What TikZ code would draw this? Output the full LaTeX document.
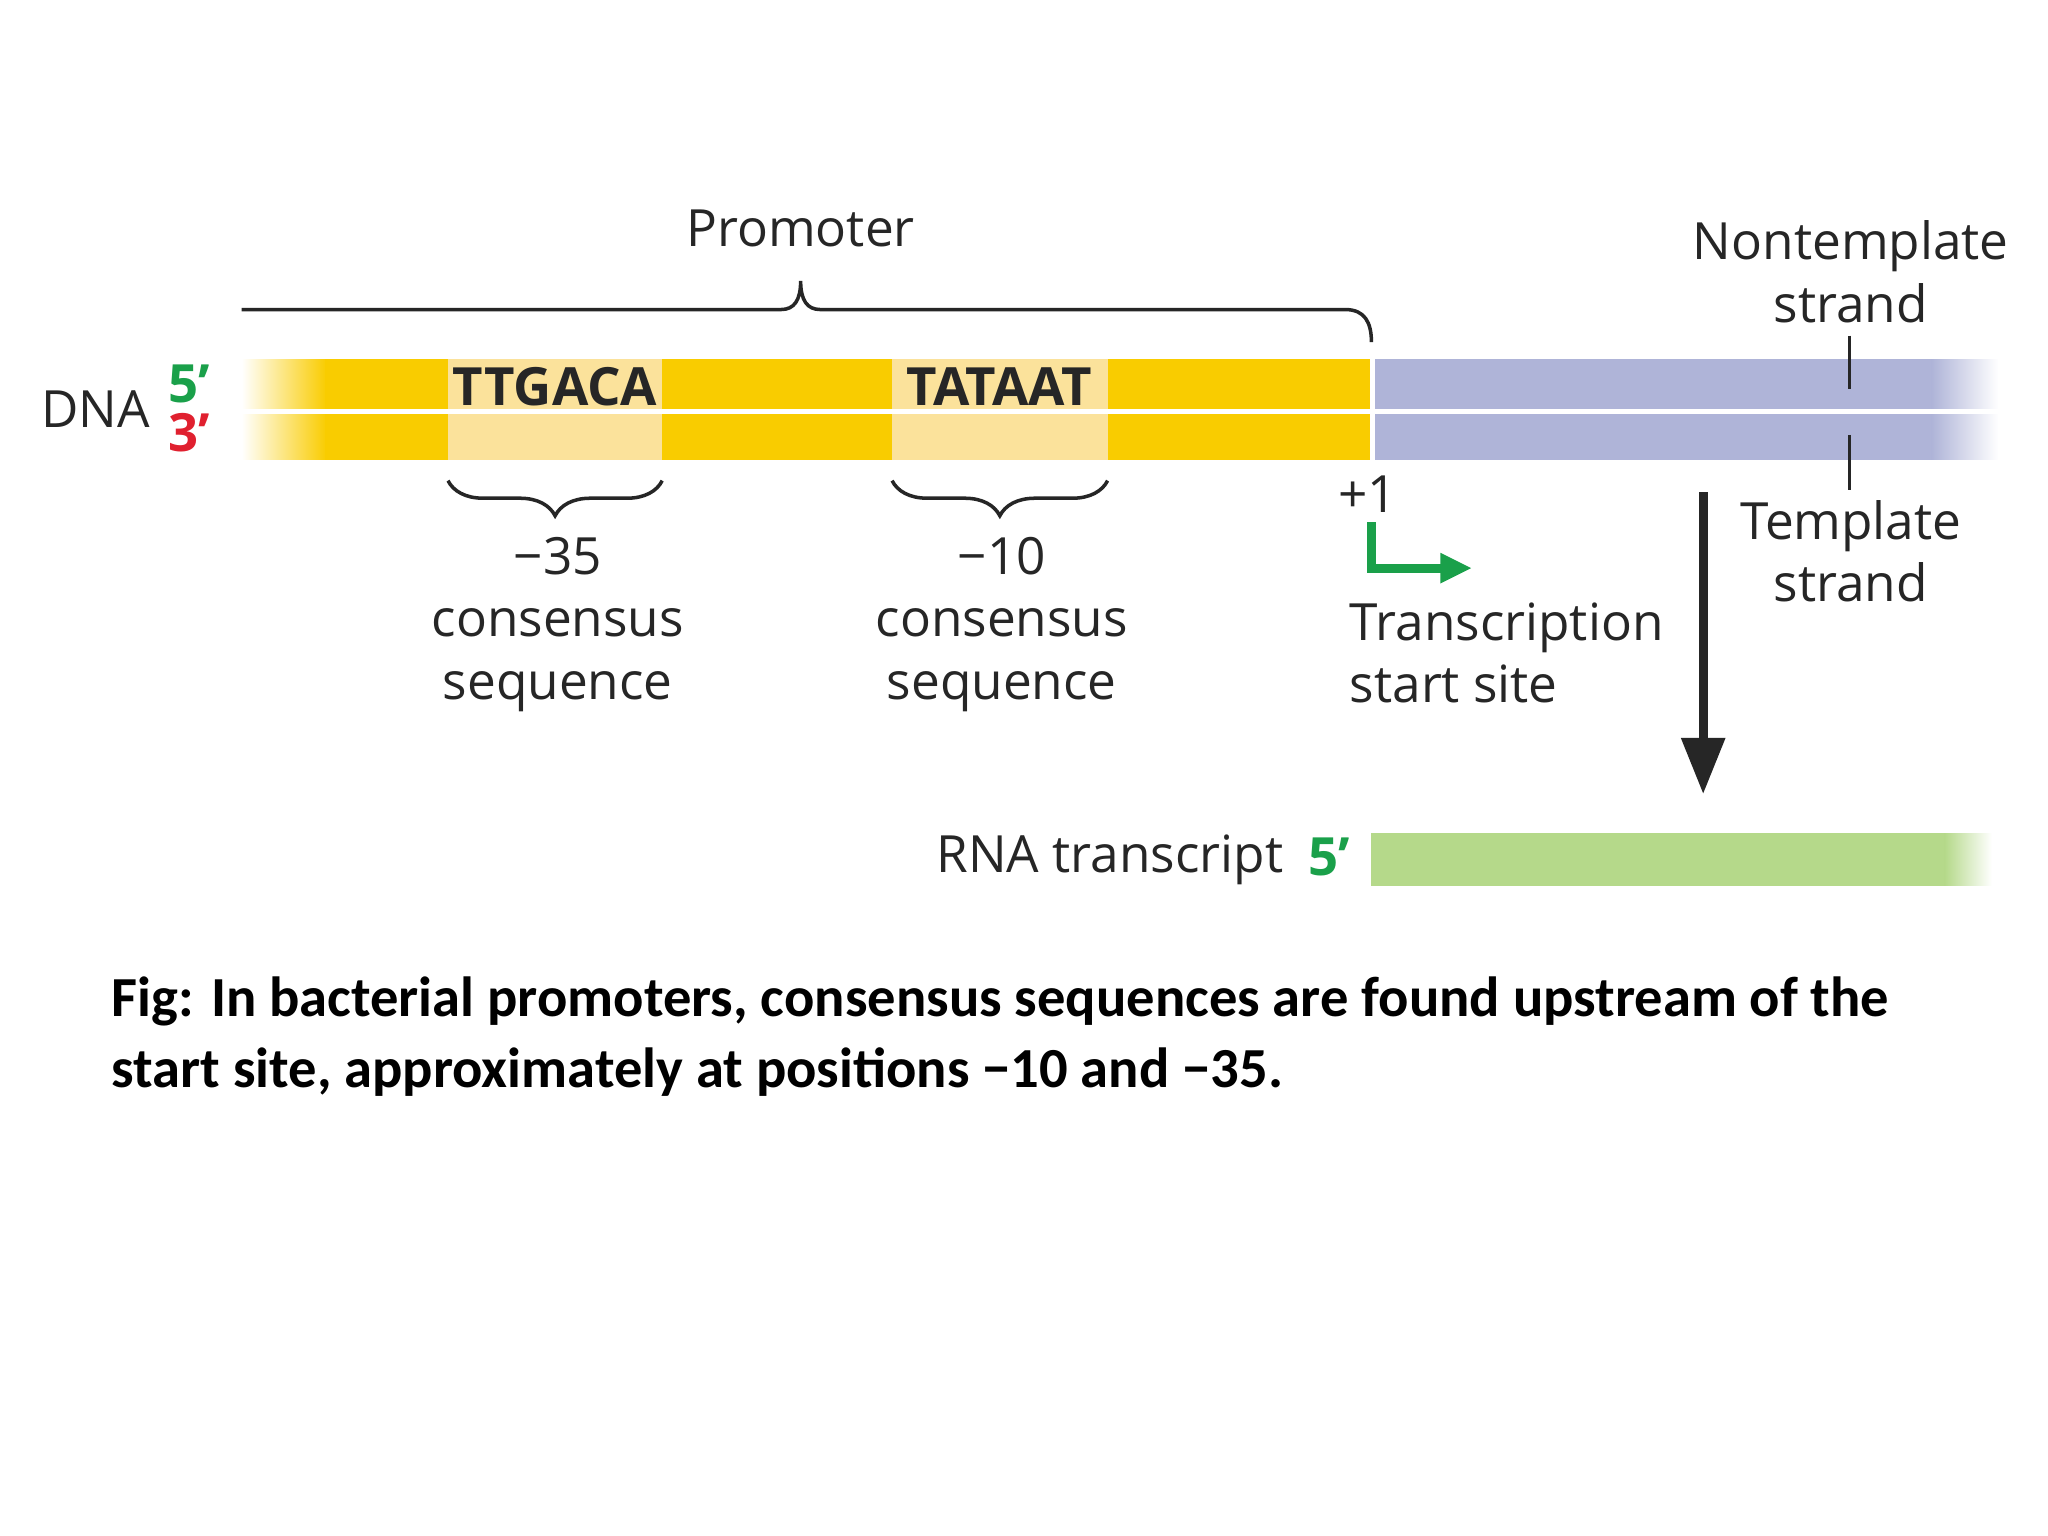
\documentclass[tikz,border=0pt]{standalone}
\usepackage{fontspec}
\setmainfont{Open Sans}
\newfontfamily\capfont{Carlito}
\usetikzlibrary{decorations.pathreplacing,arrows.meta}
\definecolor{dnay}{HTML}{F9CC00}
\definecolor{boxy}{HTML}{FBE29B}
\definecolor{dnab}{HTML}{AFB4D8}
\definecolor{rnag}{HTML}{B5D98A}
\definecolor{gr}{HTML}{1AA04A}
\definecolor{rd}{HTML}{E0202F}
\begin{document}
\begin{tikzpicture}[x=0.01306cm,y=-0.01306cm,
  lab/.style={font=\fontsize{14.6}{17.8}\selectfont,text=black!85},
  bl/.style={font=\fontsize{15}{15}\selectfont\bfseries},
  brc/.style={decorate,decoration={brace,amplitude=10pt},line width=1pt,black!85},
  tick/.style={line width=1pt,black!85}]
\useasboundingbox (0,0) rectangle (1568,1176);
\fill[white] (0,0) rectangle (1568,1176);
% DNA bar
\shade[left color=white,right color=dnay] (185,275) rectangle (250,352);
\fill[dnay] (249,275) rectangle (1050,352);
\fill[dnab] (1050,275) rectangle (1480,352);
\shade[left color=dnab,right color=white] (1479,275) rectangle (1530,352);
\fill[boxy] (343,275) rectangle (507,352);
\fill[boxy] (683,275) rectangle (848,352);
\draw[white,line width=1.5pt] (185,315) -- (1530,315);
\draw[white,line width=1.5pt] (1051,275) -- (1051,352);
\node[bl,text=black!85] (s35) at (425,296) {TTGACA};
\node[bl,text=black!85] (s10) at (765,296) {TATAAT};
\node[lab] (dna) at (73,313) {DNA};
\node[bl,text=gr] (f5) at (145,294) {5’};
\node[bl,text=rd] (f3) at (145,331) {3’};
% promoter brace
\draw[line width=1pt,black!85] (185,237) -- (598,237) .. controls (608,237) and (613,230) .. (613,215)
  .. controls (613,230) and (618,237) .. (628,237) -- (1030,237) .. controls (1045,237) and (1050,247) .. (1050,262);
\node[lab] (prom) at (613,175) {Promoter};
\draw[brc] (507,368) -- (343,368);
\draw[brc] (848,368) -- (683,368);
\node[lab,align=center] (t35) at (427,478) {−35\\consensus\\sequence};
\node[lab,align=center] (t10) at (767,478) {−10\\consensus\\sequence};
\node[lab] (p1) at (1047,378) {+1};
\coordinate (g1) at (1050,400);
\coordinate (g2) at (1050,435);
\coordinate (g3) at (1127,435);
\draw[gr,line width=2.5pt,-{Triangle[length=9pt,width=8pt]}] (g1) -- (g2) -- (g3);
\node[lab,align=left,anchor=west] (tss) at (1024,500) {Transcription\\start site};
\node[lab,align=center] (nts) at (1417,208) {Nontemplate\\strand};
\node[lab,align=center] (ts) at (1417,422) {Template\\strand};
\draw[tick] (1416,257) -- (1416,298);
\draw[tick] (1416,333) -- (1416,375);
\coordinate (a1) at (1304,377);
\coordinate (a2) at (1304,608);
\draw[line width=2.5pt,black!85,-{Triangle[length=16pt,width=12pt]}] (a1) -- (a2);
% RNA
\fill[rnag] (1050,638) rectangle (1490,678);
\shade[left color=rnag,right color=white] (1489,638) rectangle (1525,678);
\node[lab,anchor=east] (rna) at (992,658) {RNA transcript};
\node[bl,text=gr] (r5) at (1018,656) {5’};
\node[anchor=north west,align=left,font=\capfont\fontsize{16.1}{20.3}\selectfont\bfseries] (cap) at (76,738)
 {Fig: In bacterial promoters, consensus sequences are found upstream of the\\start site, approximately at positions −10 and −35.};
\end{tikzpicture}
\end{document}
